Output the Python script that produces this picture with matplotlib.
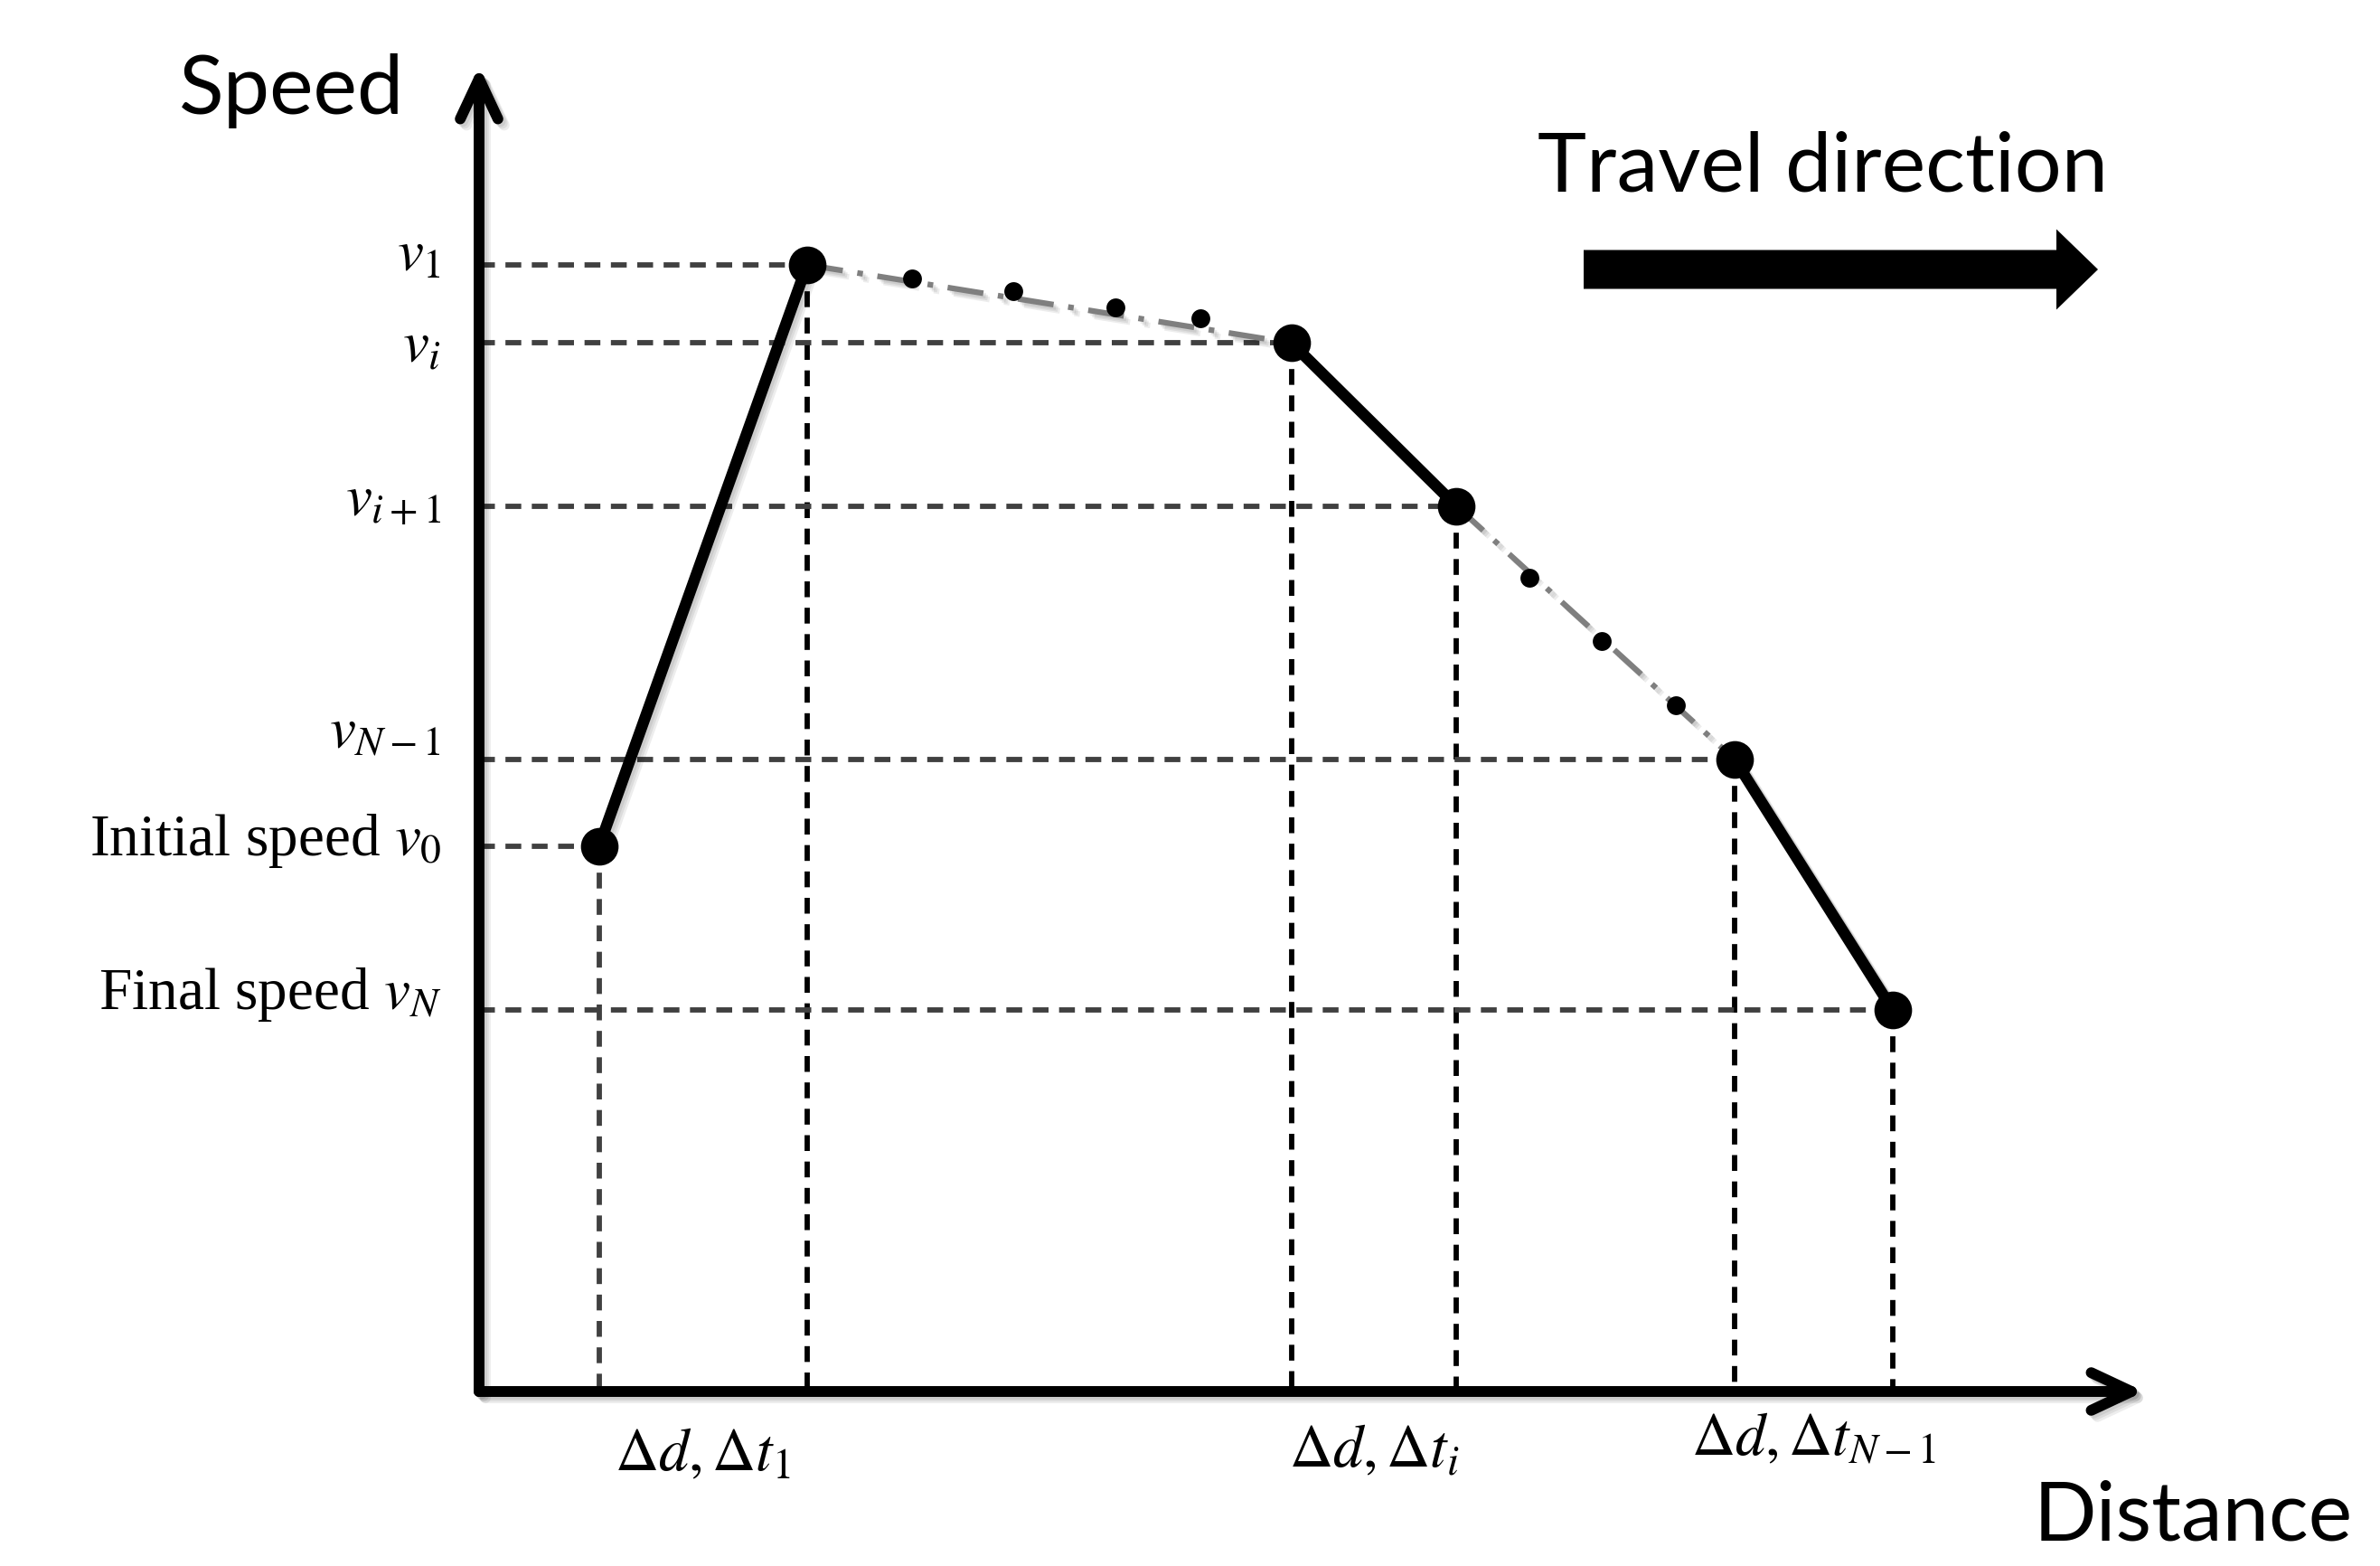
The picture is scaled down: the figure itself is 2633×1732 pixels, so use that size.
import matplotlib
matplotlib.use("Agg")
import matplotlib.pyplot as plt
import matplotlib.patheffects as pe
from matplotlib.patches import FancyArrow

W, H = 2633, 1732
DPI = 100

plt.rcParams['mathtext.fontset'] = 'stix'

# 速度-距离示意数据 (任意单位, 轴长 0..10)
dist = [0.72, 1.97, 4.88, 5.87, 7.54, 8.49]
speed = [4.11, 8.50, 7.91, 6.68, 4.77, 2.88]
speed_labels = [r'Initial speed $v_0$', r'$v_1$', r'$v_i$', r'$v_{i+1}$',
                r'$v_{N-1}$', r'Final speed $v_N$']

# 省略段上的中间点
mid1_dist = [2.60, 3.21, 3.82, 4.33]
mid1_speed = [8.40, 8.30, 8.18, 8.10]
mid2_dist = [6.31, 6.74, 7.19]
mid2_speed = [6.14, 5.66, 5.18]

interval_labels = [r'$\Delta d,\Delta t_1$', r'$\Delta d,\Delta t_i$',
                   r'$\Delta d,\Delta t_{N-1}$']
solid_pairs = [(0, 1), (2, 3), (4, 5)]
dashdot_pairs = [(1, 2), (3, 4)]

# 标签微调 (points)
ylabel_dy = [-6.5, -4.3, -15.1, -7.9, 8.6, 0.7]
xlabel_dy = [-62.6, -60.0, -50.4]
vline_colors = ['#404040', 'k', 'k', 'k', 'k', 'k']


def shadow():
    fx = [pe.SimpleLineShadow(offset=(o, -o), shadow_color='k', alpha=0.07)
          for o in (5, 3.5, 2)]
    return fx + [pe.Normal()]


fig = plt.figure(figsize=(W / DPI, H / DPI), dpi=DPI)
ax = fig.add_axes([530 / W, (H - 1539) / H, 1842 / W, 1466 / H])
ax.set_xlim(0, 10)
ax.set_ylim(0, 10)
ax.axis('off')

# 坐标轴箭头
arrow_kw = dict(arrowstyle='->,head_length=32,head_width=15', mutation_scale=1,
                lw=8.6, color='k', shrinkA=0, shrinkB=0, capstyle='round',
                joinstyle='round', path_effects=shadow())
ax.annotate('', xy=(10, 0), xytext=(0, 0), arrowprops=arrow_kw, annotation_clip=False)
ax.annotate('', xy=(0, 10), xytext=(0, 0), arrowprops=arrow_kw, annotation_clip=False)

# 虚线辅助线
for k, (x, y) in enumerate(zip(dist, speed)):
    ax.plot([0, x], [y, y], color='#404040', lw=4.2, ls=(0, (3.0, 2.0)), zorder=1)
    ax.plot([x, x], [y, 0], color=vline_colors[k], lw=4.2, ls=(0, (3.0, 2.0)), zorder=1)

# 点划线 (省略段)
for a, b in dashdot_pairs:
    ax.plot([dist[a], dist[b]], [speed[a], speed[b]], color='#7f7f7f', lw=4.5,
            ls=(0, (6.4, 2.6, 1.0, 2.6)), zorder=2, path_effects=shadow())

# 实线段
for a, b in solid_pairs:
    ax.plot([dist[a], dist[b]], [speed[a], speed[b]], color='k', lw=9,
            solid_capstyle='round', zorder=3, path_effects=shadow())

ax.plot(dist, speed, 'o', ms=30, color='k', mew=0, zorder=4)
ax.plot(mid1_dist + mid2_dist, mid1_speed + mid2_speed, 'o', ms=15, color='k',
        mew=0, zorder=4)

# 纵轴标签
for k, lbl in enumerate(speed_labels):
    ax.annotate(lbl, xy=(0, speed[k]), xytext=(-30, ylabel_dy[k]),
                textcoords='offset points', ha='right', va='baseline',
                family='Liberation Serif', size=47, annotation_clip=False)

# 横轴区间标签
for k, (a, b) in enumerate(solid_pairs):
    ax.annotate(interval_labels[k], xy=((dist[a] + dist[b]) / 2, 0),
                xytext=(0, xlabel_dy[k]), textcoords='offset points',
                ha='center', va='baseline', family='Liberation Serif', size=48,
                annotation_clip=False)

# 文本
fig.text(198 / W, 1 - 126 / H, 'Speed', family='Lato', size=66, ha='left', va='baseline')
fig.text(1701 / W, 1 - 212 / H, 'Travel direction', family='Lato', size=66,
         ha='left', va='baseline')
fig.text(2250 / W, 1 - 1703 / H, 'Distance', family='Lato', size=66, ha='left', va='baseline')

# 行驶方向箭头
fig.add_artist(FancyArrow(17.52, (H - 298) / DPI, 5.69, 0, width=0.43, head_width=0.89,
                          head_length=0.46, length_includes_head=True,
                          color='k', lw=0, transform=fig.dpi_scale_trans))

fig.savefig('out.png', dpi=DPI)
